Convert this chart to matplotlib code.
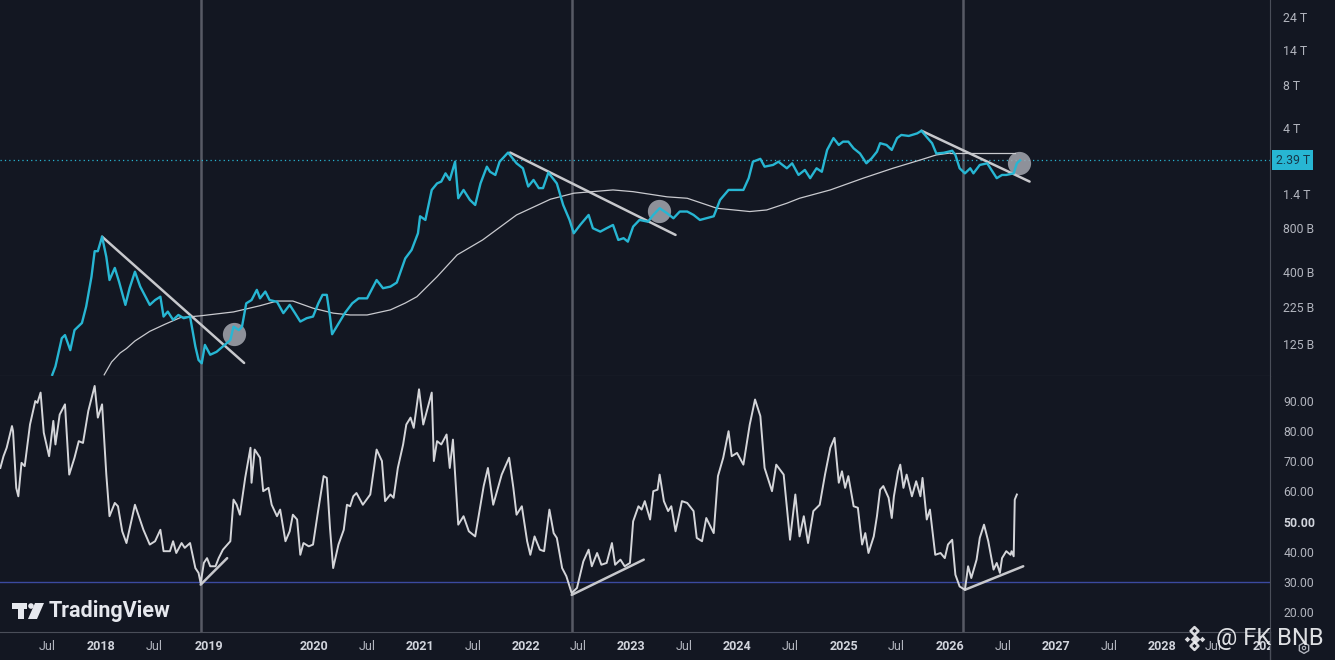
import matplotlib
matplotlib.use("Agg")
import matplotlib.pyplot as plt
from matplotlib.transforms import Bbox, TransformedBbox, blended_transform_factory

plt.rcParams['font.family'] = ['Roboto', 'DejaVu Sans']

BG = '#131722'
CYAN = '#27b6d3'
GRID = '#4a4e59'

# --- market cap (billions USD) ---
price_years = [2017.54, 2017.57, 2017.63, 2017.66, 2017.71, 2017.75, 2017.82, 2017.86, 2017.91, 2017.94,
               2017.97, 2018.01, 2018.05, 2018.08, 2018.13, 2018.17, 2018.23, 2018.27, 2018.32, 2018.37,
               2018.42, 2018.46, 2018.51, 2018.56, 2018.59, 2018.63, 2018.68, 2018.73, 2018.78, 2018.84,
               2018.89, 2018.92, 2018.95, 2018.98, 2019.03, 2019.09, 2019.15, 2019.22, 2019.25, 2019.30,
               2019.33, 2019.37, 2019.42, 2019.47, 2019.50, 2019.55, 2019.59, 2019.66, 2019.72, 2019.78,
               2019.83, 2019.88, 2019.94, 2020.00, 2020.05, 2020.09, 2020.13, 2020.16, 2020.18, 2020.24,
               2020.30, 2020.37, 2020.43, 2020.51, 2020.60, 2020.66, 2020.73, 2020.79, 2020.87, 2020.93,
               2020.99, 2021.01, 2021.06, 2021.12, 2021.17, 2021.21, 2021.25, 2021.29, 2021.34, 2021.37,
               2021.42, 2021.48, 2021.53, 2021.58, 2021.64, 2021.67, 2021.72, 2021.76, 2021.84, 2021.92,
               2021.98, 2022.03, 2022.08, 2022.13, 2022.17, 2022.22, 2022.30, 2022.36, 2022.42, 2022.46,
               2022.52, 2022.60, 2022.64, 2022.71, 2022.77, 2022.83, 2022.88, 2022.93, 2022.97, 2023.02,
               2023.08, 2023.16, 2023.21, 2023.27, 2023.34, 2023.40, 2023.46, 2023.53, 2023.59, 2023.65,
               2023.71, 2023.78, 2023.84, 2023.92, 2024.06, 2024.11, 2024.15, 2024.22, 2024.26, 2024.34,
               2024.39, 2024.47, 2024.52, 2024.58, 2024.64, 2024.69, 2024.75, 2024.80, 2024.85, 2024.91,
               2024.96, 2025.00, 2025.05, 2025.10, 2025.16, 2025.22, 2025.27, 2025.32, 2025.35, 2025.41,
               2025.46, 2025.51, 2025.55, 2025.62, 2025.70, 2025.74, 2025.79, 2025.84, 2025.88, 2025.95,
               2026.03, 2026.06, 2026.10, 2026.15, 2026.20, 2026.23, 2026.29, 2026.36, 2026.40, 2026.45,
               2026.50, 2026.54, 2026.61, 2026.64, 2026.67]
price_cap_b = [76, 87, 137, 144, 113, 156, 175, 228, 368, 555,
               555, 701, 506, 349, 424, 340, 234, 307, 399, 314,
               267, 234, 253, 267, 194, 210, 184, 199, 189, 194,
               120, 96.5, 91.5, 123, 105, 110, 120, 133, 165, 156,
               165, 240, 253, 298, 260, 290, 253, 246, 205, 234,
               205, 179, 189, 194, 240, 275, 275, 194, 146, 173,
               205, 240, 260, 260, 349, 306, 314, 335, 494, 566,
               740, 973, 917, 1486, 1650, 1700, 1940, 1745, 2340, 1300,
               1486, 1265, 1167, 1650, 2160, 1990, 1891, 2340, 2710, 2280,
               2105, 1570, 1745, 1530, 1530, 1965, 1650, 1167, 917, 740,
               846, 994, 803, 760, 803, 846, 665, 684, 647, 824,
               917, 892, 994, 1107, 1022, 942, 1050, 1050, 994, 917,
               942, 973, 1265, 1486, 1486, 1795, 2340, 2450, 2160, 2221,
               2340, 2105, 2280, 1891, 2050, 1795, 2105, 1990, 2827, 3420,
               3063, 3230, 3230, 2900, 2670, 2280, 2470, 2750, 3150, 3063,
               2827, 3420, 3597, 3540, 3690, 3850, 3475, 3150, 2670, 2700,
               2790, 2609, 2105, 1940, 2105, 1940, 2221, 2280, 2050, 1795,
               1891, 1891, 1940, 2280, 2390]
last_cap_b = 2390

# long moving average
ma_years = [2018.03, 2018.10, 2018.18, 2018.24, 2018.32, 2018.46, 2018.60, 2018.75, 2018.93, 2019.25,
            2019.50, 2019.66, 2019.81, 2020.00, 2020.19, 2020.35, 2020.51, 2020.73, 2020.87, 2020.98,
            2021.17, 2021.36, 2021.60, 2021.92, 2022.24, 2022.46, 2022.83, 2023.02, 2023.34, 2023.53,
            2023.81, 2024.12, 2024.28, 2024.47, 2024.59, 2024.88, 2025.19, 2025.47, 2025.73, 2025.88,
            2026.01]
ma_cap_b = [76, 93.5, 108, 116, 131, 153, 171, 191, 196, 209,
            231, 249, 249, 222, 205, 199, 199, 216, 241, 267,
            368, 523, 665, 994, 1280, 1410, 1486, 1445, 1330, 1300,
            1107, 1050, 1077, 1200, 1300, 1486, 1795, 2105, 2407, 2609,
            2690]

# drawn trendlines on price (start, end)
price_trend_years = [(2018.01, 2019.35), (2021.86, 2023.42), (2025.74, 2026.76)]
price_trend_caps = [(701, 92), (2710, 721), (3850, 1700)]
level_years = (2026.01, 2026.62)
level_cap = 2690
breakout_years = [2019.25, 2023.26, 2026.66]
breakout_caps = [147, 1055, 2280]

# RSI
rsi_years = [2017.05, 2017.08, 2017.11, 2017.16, 2017.17, 2017.20, 2017.22, 2017.25, 2017.28, 2017.33,
             2017.38, 2017.40, 2017.43, 2017.46, 2017.51, 2017.55, 2017.57, 2017.61, 2017.66, 2017.70,
             2017.75, 2017.79, 2017.83, 2017.88, 2017.94, 2017.97, 2018.01, 2018.05, 2018.08, 2018.13,
             2018.16, 2018.20, 2018.24, 2018.32, 2018.40, 2018.46, 2018.51, 2018.56, 2018.59, 2018.65,
             2018.68, 2018.71, 2018.76, 2018.79, 2018.84, 2018.89, 2018.92, 2018.94, 2018.97, 2019.00,
             2019.03, 2019.08, 2019.11, 2019.15, 2019.22, 2019.25, 2019.28, 2019.31, 2019.36, 2019.41,
             2019.42, 2019.45, 2019.50, 2019.53, 2019.58, 2019.61, 2019.66, 2019.69, 2019.74, 2019.78,
             2019.81, 2019.85, 2019.88, 2019.91, 2019.96, 2020.00, 2020.05, 2020.10, 2020.13, 2020.16,
             2020.19, 2020.24, 2020.29, 2020.32, 2020.35, 2020.38, 2020.41, 2020.47, 2020.54, 2020.60,
             2020.65, 2020.68, 2020.73, 2020.76, 2020.80, 2020.85, 2020.88, 2020.92, 2020.95, 2021.00,
             2021.04, 2021.12, 2021.14, 2021.17, 2021.21, 2021.26, 2021.29, 2021.32, 2021.37, 2021.42,
             2021.47, 2021.53, 2021.61, 2021.65, 2021.70, 2021.78, 2021.85, 2021.89, 2021.92, 2021.97,
             2022.02, 2022.05, 2022.09, 2022.14, 2022.18, 2022.23, 2022.27, 2022.30, 2022.35, 2022.39,
             2022.44, 2022.49, 2022.55, 2022.60, 2022.63, 2022.68, 2022.72, 2022.77, 2022.82, 2022.85,
             2022.90, 2022.94, 2022.99, 2023.02, 2023.07, 2023.10, 2023.13, 2023.18, 2023.21, 2023.25,
             2023.27, 2023.31, 2023.35, 2023.38, 2023.42, 2023.48, 2023.53, 2023.59, 2023.62, 2023.67,
             2023.71, 2023.78, 2023.82, 2023.87, 2023.92, 2023.95, 2024.00, 2024.06, 2024.12, 2024.17,
             2024.22, 2024.26, 2024.33, 2024.37, 2024.44, 2024.50, 2024.55, 2024.59, 2024.63, 2024.67,
             2024.72, 2024.78, 2024.83, 2024.88, 2024.92, 2024.96, 2024.99, 2025.02, 2025.05, 2025.10,
             2025.14, 2025.18, 2025.21, 2025.24, 2025.29, 2025.32, 2025.35, 2025.38, 2025.43, 2025.46,
             2025.48, 2025.52, 2025.54, 2025.57, 2025.60, 2025.65, 2025.69, 2025.73, 2025.75, 2025.79,
             2025.82, 2025.87, 2025.92, 2025.96, 2025.99, 2026.03, 2026.06, 2026.10, 2026.15, 2026.18,
             2026.21, 2026.26, 2026.29, 2026.33, 2026.37, 2026.42, 2026.45, 2026.48, 2026.50, 2026.54,
             2026.58, 2026.59, 2026.61, 2026.62, 2026.64]
rsi_vals = [67.8, 71.7, 74.5, 81.7, 80.0, 61.2, 58.4, 69.5, 68.4, 82.2,
            90.0, 89.4, 92.8, 79.5, 71.7, 83.4, 75.6, 85.5, 88.9, 65.6,
            71.2, 76.7, 76.1, 86.7, 95.0, 84.5, 88.9, 65.6, 51.8, 56.2,
            55.1, 46.8, 42.9, 55.6, 47.3, 42.4, 43.5, 47.3, 40.2, 40.2,
            43.5, 39.6, 42.9, 41.3, 42.9, 34.6, 33.0, 29.6, 36.3, 37.9,
            35.2, 35.2, 37.9, 40.7, 43.5, 57.3, 55.6, 52.3, 64.5, 74.5,
            62.9, 73.9, 71.2, 60.1, 61.2, 55.6, 51.8, 54.0, 43.5, 46.8,
            52.3, 50.7, 39.0, 42.9, 41.8, 42.4, 54.0, 65.1, 64.5, 47.9,
            34.6, 42.4, 47.3, 55.6, 55.1, 58.4, 59.5, 55.6, 59.0, 73.9,
            70.1, 56.8, 59.0, 57.9, 67.8, 75.6, 82.2, 84.5, 81.1, 93.9,
            82.2, 92.8, 70.1, 76.7, 75.6, 78.9, 67.8, 77.2, 49.0, 51.8,
            46.8, 45.1, 61.8, 67.8, 55.6, 65.6, 71.2, 61.2, 52.3, 55.1,
            43.5, 39.0, 45.1, 40.7, 40.2, 54.0, 46.2, 44.6, 34.6, 31.9,
            26.3, 28.0, 36.8, 40.7, 35.2, 39.6, 35.7, 36.3, 42.9, 35.7,
            37.4, 35.2, 36.3, 50.1, 55.1, 54.0, 56.8, 50.7, 60.1, 60.6,
            65.6, 56.8, 53.5, 55.1, 46.8, 56.8, 56.2, 53.5, 44.6, 43.5,
            51.2, 46.2, 65.1, 71.2, 80.0, 71.7, 72.8, 68.9, 82.2, 90.5,
            85.0, 67.8, 60.1, 68.9, 65.6, 44.0, 59.0, 45.1, 51.8, 42.9,
            53.5, 55.6, 65.6, 74.5, 77.8, 62.9, 66.7, 61.2, 65.1, 55.1,
            54.6, 42.4, 46.2, 39.6, 45.1, 51.8, 60.6, 61.8, 57.9, 51.2,
            58.4, 66.7, 68.9, 61.2, 65.6, 58.4, 63.4, 58.4, 64.5, 50.7,
            54.0, 39.0, 39.6, 37.9, 42.4, 44.0, 32.4, 28.5, 27.4, 35.2,
            31.3, 37.4, 44.6, 49.0, 43.5, 34.1, 36.3, 33.0, 37.9, 40.2,
            39.0, 40.2, 38.5, 57.3, 59.0]
rsi_trend_years = [(2018.94, 2019.19), (2022.44, 2023.12), (2026.15, 2026.70)]
rsi_trend_vals = [(29.1, 37.9), (25.7, 37.4), (27.4, 35.2)]
rsi_level = 30

cycle_lines = [2018.94, 2022.44, 2026.13]

price_ticks = [125, 225, 400, 800, 1400, 4000, 8000, 14000, 24000]
price_tick_labels = ['125 B', '225 B', '400 B', '800 B', '1.4 T', '4 T', '8 T', '14 T', '24 T']
rsi_ticks = [20, 30, 40, 50, 60, 70, 80, 90]
rsi_tick_labels = ['20.00', '30.00', '40.00', '50.00', '60.00', '70.00', '80.00', '90.00']
x_ticks = [2017.49, 2018.0, 2018.5, 2019.02, 2020.01, 2020.51, 2021.01, 2021.51, 2022.01, 2022.5,
           2023.0, 2023.5, 2024.0, 2024.5, 2025.01, 2025.5, 2026.01, 2026.51, 2027.01, 2027.51,
           2028.01, 2028.49, 2029.0]
x_tick_labels = ['Jul', '2018', 'Jul', '2019', '2020', 'Jul', '2021', 'Jul', '2022', 'Jul',
                 '2023', 'Jul', '2024', 'Jul', '2025', 'Jul', '2026', 'Jul', '2027', 'Jul',
                 '2028', 'Jul', '2029']

W, H = 1335, 660
fig = plt.figure(figsize=(W / 100, H / 100), dpi=100, facecolor=BG)
right_px, split_px, bottom_px = 1270, 376, 632
ax1 = fig.add_axes([0, (H - split_px) / H, right_px / W, split_px / H])
ax2 = fig.add_axes([0, (H - bottom_px) / H, right_px / W, (bottom_px - split_px) / H])

xmin, xmax = 2017.047, 2029.028
for ax in (ax1, ax2):
    ax.set_facecolor(BG)
    ax.set_xlim(xmin, xmax)
    for s in ax.spines.values():
        s.set_visible(False)
    ax.spines['right'].set_visible(True)
    ax.spines['right'].set_color(GRID)
    ax.spines['bottom'].set_visible(True)
    ax.spines['bottom'].set_color(GRID)
    ax.yaxis.tick_right()
    ax.tick_params(axis='y', length=0, pad=9.5, labelsize=8.8, labelcolor='#b2b5be')
    for xv in cycle_lines:
        ax.axvline(xv, color='#575a65', lw=1.8, zorder=1)

# top panel
ax1.set_yscale('log')
ax1.set_ylim(74.6, 31500)
ax1.set_yticks(price_ticks)
ax1.set_yticklabels(price_tick_labels)
ax1.minorticks_off()
ax1.set_xticks([])
ax1.axhline(last_cap_b, color=CYAN, lw=0.9, ls=(0, (1, 2.5)), zorder=2)
ax1.scatter(breakout_years, breakout_caps, s=280, color='#a5a8b0', alpha=0.85, lw=0, zorder=3)
ax1.plot(ma_years, ma_cap_b, color='#c9cacf', lw=0.9, zorder=4)
ax1.plot(level_years, [level_cap, level_cap], color='#c9cacf', lw=0.9, zorder=4)
for xs, ys in zip(price_trend_years, price_trend_caps):
    ax1.plot(xs, ys, color='#c7c8cc', lw=1.8, solid_capstyle='round', zorder=5)
ax1.plot(price_years, price_cap_b, color=CYAN, lw=1.7, zorder=6)
trans = blended_transform_factory(ax1.transAxes, ax1.transData)
ax1.text(1.0045, last_cap_b, '2.39 T', transform=trans, ha='left', va='center',
         fontsize=8.8, color='#16384a',
         bbox=dict(boxstyle='square,pad=0.28', fc=CYAN, ec='none'))

# bottom panel
ax2.set_ylim(13.4, 98.3)
ax2.set_yticks(rsi_ticks)
ax2.set_yticklabels(rsi_tick_labels)
for lbl in ax2.get_yticklabels():
    if lbl.get_text() == '50.00':
        lbl.set_fontweight('bold')
        lbl.set_color('#d1d4dc')
ax2.axhline(rsi_level, color='#3b4aa0', lw=1.0, zorder=2)
for xs, ys in zip(rsi_trend_years, rsi_trend_vals):
    ax2.plot(xs, ys, color='#c7c8cc', lw=1.8, solid_capstyle='round', zorder=4)
ax2.plot(rsi_years, rsi_vals, color='#d4d5d9', lw=1.4, zorder=5)

ax2.set_xticks(x_ticks)
ax2.set_xticklabels(x_tick_labels)
ax2.tick_params(axis='x', length=0, pad=6, labelsize=9)
clip = TransformedBbox(Bbox([[0, 0], [right_px / W, 1]]), fig.transFigure)
for lbl in ax2.get_xticklabels():
    if lbl.get_text() == 'Jul':
        lbl.set_color('#b2b5be')
    else:
        lbl.set_fontweight('bold')
        lbl.set_color('#d1d4dc')
    lbl.set_clip_box(clip)
    lbl.set_clip_on(True)

# overlay for branding (pixel coordinates)
ov = fig.add_axes([0, 0, 1, 1], facecolor='none')
ov.set_xlim(0, W)
ov.set_ylim(H, 0)
ov.axis('off')
ov.plot([right_px, right_px], [bottom_px, H], color=GRID, lw=1)
# TradingView logo
logo = '#e6e8ee'
ov.add_patch(plt.Rectangle((12, 603), 15, 5.5, color=logo, lw=0))
ov.add_patch(plt.Rectangle((18, 603), 5.5, 16, color=logo, lw=0))
ov.add_patch(plt.Circle((31, 606), 2.8, color=logo, lw=0))
ov.fill([35, 44, 37, 28], [603, 603, 619, 619], color=logo, lw=0)
ov.text(49, 611.5, 'TradingView', fontsize=15.5, fontweight='bold', color=logo,
        ha='left', va='center')
# watermark
wm = '#f0f1f4'
ov.scatter([1194.5], [638.5], marker='D', s=26, color=wm, alpha=0.9, lw=0)
ov.scatter([1187, 1202], [638.5, 638.5], marker='D', s=8, color=wm, alpha=0.9, lw=0)
ov.scatter([1194.5, 1194.5], [631, 646], marker='D', s=16, facecolor='none',
           edgecolor=wm, lw=1.8, alpha=0.9)
ov.text(1216, 638, '@ FK BNB', fontsize=17, color=wm, alpha=0.92, ha='left', va='center')
ov.scatter([1304], [648], marker='h', s=60, facecolor='none', edgecolor='#b2b5be', lw=1)
ov.scatter([1304], [648], marker='o', s=6, facecolor='none', edgecolor='#b2b5be', lw=0.8)

fig.savefig('out.png', dpi=100, facecolor=BG)
